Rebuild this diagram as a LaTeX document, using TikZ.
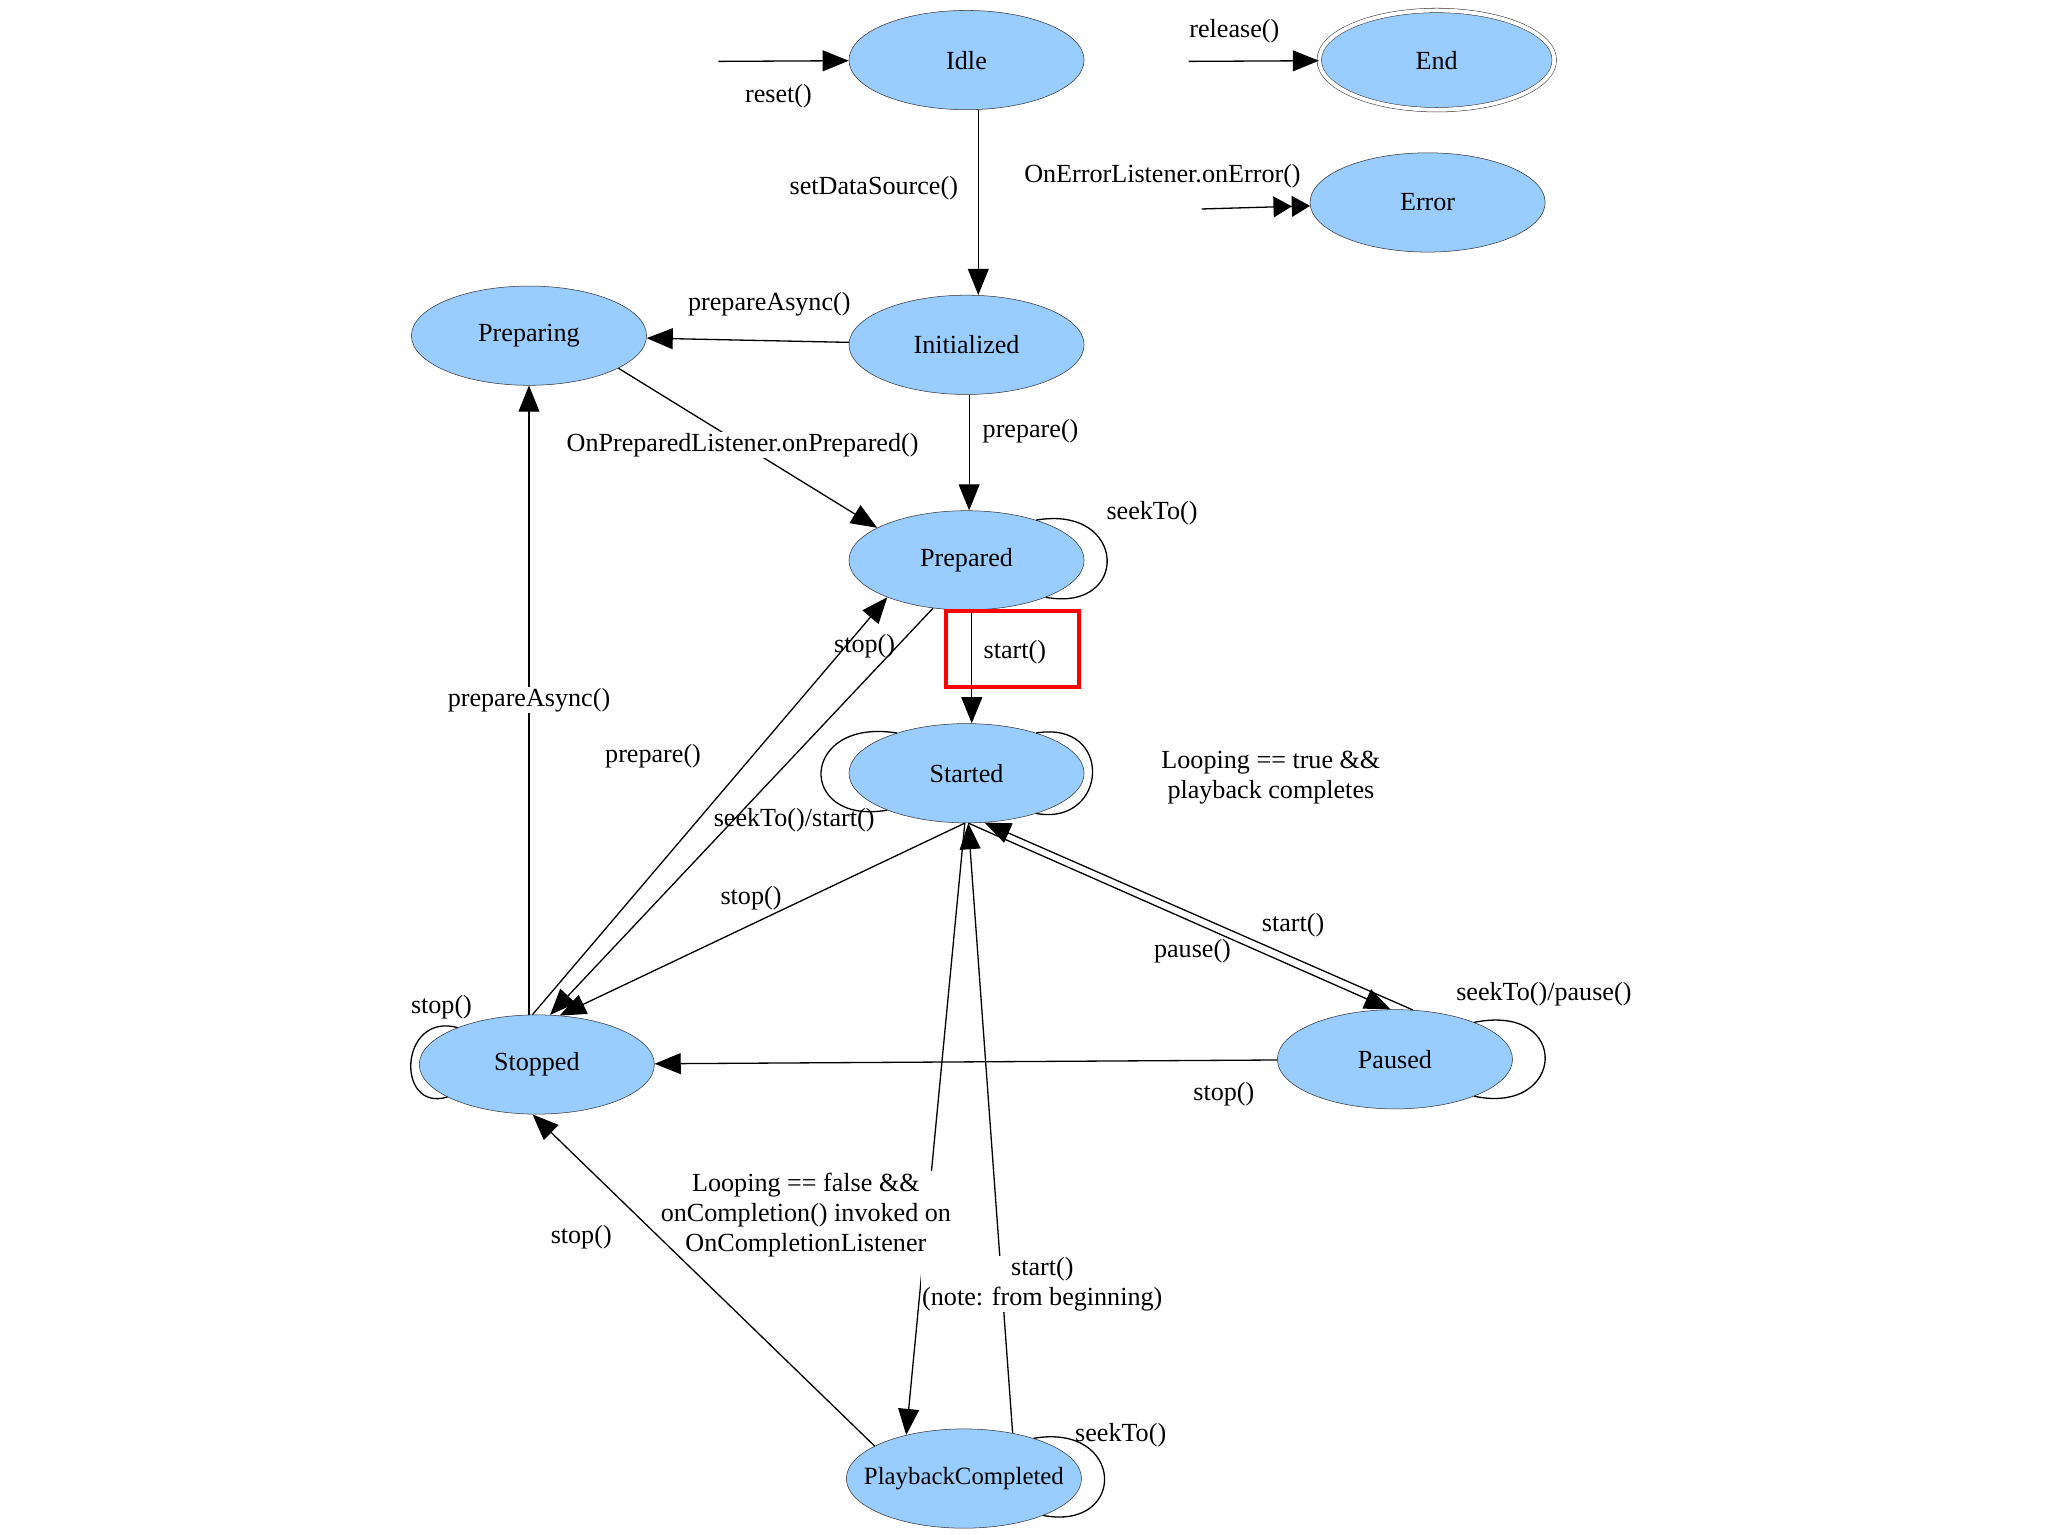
\documentclass[tikz,border=0pt]{standalone}
\usepackage{fontspec}
\setmainfont{Liberation Serif}
\usetikzlibrary{arrows.meta,shapes.geometric}
\begin{document}
\begin{tikzpicture}[x=1pt,y=-1pt,
  st/.style={ellipse,draw=black!80,fill={rgb,255:red,153;green,204;blue,255},minimum width=180pt,minimum height=76pt,inner sep=0pt,font=\fontsize{20}{23}\selectfont},
  ar/.style={-{Triangle[length=20pt,width=16pt]},line width=1pt},
  ln/.style={line width=1pt},
  lb/.style={font=\fontsize{20}{23}\selectfont,inner sep=1pt},
  lw/.style={lb,fill=white,align=center}]
\useasboundingbox (0,0) rectangle (1568,1175);
\node[st] (idle) at (740,46) {Idle};
\node[st,double,double distance=3pt] (end) at (1100,46) {End};
\node[st] (error) at (1093,155) {Error};
\node[st] (preparing) at (405,257) {Preparing};
\node[st] (init) at (740,264) {Initialized};
\node[st] (prepared) at (740,429) {Prepared};
\node[st] (started) at (740,592) {Started};
\node[st] (stopped) at (411,815) {Stopped};
\node[st] (paused) at (1068,811) {Paused};
\node[st] (pc) at (738,1132) {};
\node[lb,font=\fontsize{19}{22}\selectfont] (pct) at (pc) {PlaybackCompleted};
\coordinate (c1) at (550,47);
\coordinate (c2) at (910,47);
\coordinate (c3) at (920,160);
\draw[ar] (c1) -- (idle);
\node[lb] (l1) at (596,74) {reset()};
\draw[ar] (c2) -- (end);
\node[lb] (l2) at (945,24) {release()};
\draw[ln,-{Triangle[length=14pt,width=16pt]Triangle[length=14pt,width=16pt]}] (c3) -- (error);
\node[lb] (l3) at (890,135) {OnErrorListener.onError()};
\draw[ar] (idle.south -| 749,0) -- (init.north -| 749,0);
\node[lb] (l4) at (669,144) {setDataSource()};
\draw[ar] (init) -- (preparing);
\node[lb] (l5) at (589,233) {prepareAsync()};
\draw[ar] (preparing.-20) -- node[lw,pos=0.48] {OnPreparedListener.onPrepared()} (prepared.160);
\draw[ar] (init.south -| 742,0) -- (prepared.north -| 742,0);
\node[lb] (l6) at (789,330) {prepare()};
\draw[ln] (prepared.30) .. controls +(70,-12) and +(65,12) .. (prepared.-25);
\node[lb] (l7) at (882,393) {seekTo()};
\draw[ar] (prepared.south -| 744,0) -- (started.north -| 744,0);
\node[lb] (l8) at (777,499) {start()};
\draw[red,line width=3pt] (724,468) rectangle (826,526);
\draw[ln] (started.150) .. controls +(-75,-12) and +(-70,12) .. (started.-155);
\node[lb] (l9) at (608,628) {seekTo()/start()};
\draw[ln] (started.30) .. controls +(60,-10) and +(55,10) .. (started.-30);
\node[lw] (l10) at (973,595) {Looping == true \&\&\\playback completes};
\draw[ar] (stopped.95) -- (prepared.205);
\node[lb] (l11) at (500,579) {prepare()};
\draw[ar] (prepared.235) -- (stopped.75);
\node[lb] (l12) at (662,495) {stop()};
\draw[ar] (started.268) -- (stopped.65);
\node[lb] (l13) at (575,688) {stop()};
\draw[ar] (started.272) -- (paused.95);
\node[lb] (l14) at (913,728) {pause()};
\draw[ar] (paused.70) -- (started.290);
\node[lb] (l15) at (990,708) {start()};
\draw[ln] (paused.25) .. controls +(75,-15) and +(70,15) .. (paused.-25);
\node[lb] (l16) at (1182,761) {seekTo()/pause()};
\draw[ar] (paused) -- (stopped);
\node[lb] (l17) at (937,838) {stop()};
\draw[ln] (stopped.155) .. controls +(-45,-12) and +(-40,12) .. (stopped.-160);
\node[lb] (l18) at (338,771) {stop()};
\draw[ar] (stopped.north -| 405,0) -- node[lw,pos=0.5] {prepareAsync()} (preparing.south -| 405,0);
\draw[ar] (started.268) -- (pc.143);
\draw[ar] (pc.43) -- (started.272);
\node[lw] (l21) at (617,930) {Looping == false \&\&\\onCompletion() invoked on\\OnCompletionListener};
\node[lw] (l22) at (798,983) {start()\\(note: from beginning)};
\draw[ar] (pc.160) -- (stopped.-95);
\node[lb] (l19) at (445,947) {stop()};
\draw[ln] (pc.30) .. controls +(70,-12) and +(65,12) .. (pc.-25);
\node[lb] (l20) at (858,1099) {seekTo()};
\end{tikzpicture}
\end{document}
